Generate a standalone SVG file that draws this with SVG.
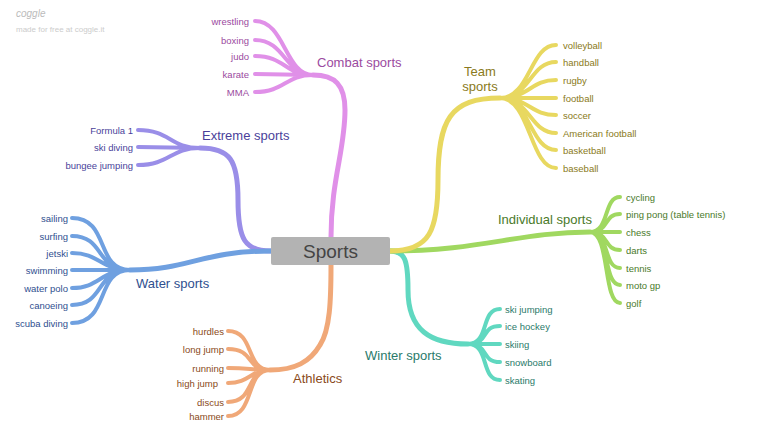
<svg xmlns="http://www.w3.org/2000/svg" width="768" height="443" viewBox="0 0 768 443">
<style>
path{fill:none;stroke-linecap:round}
.l{stroke-width:4}
.t{stroke-width:5}
text{font-family:"Liberation Sans",Arial,sans-serif;font-size:9.5px}
text.h{font-size:13px}
.r{text-anchor:end}
</style>
<rect width="768" height="443" fill="#fff"/>
<text x="16" y="17" fill="#bbb" font-style="italic" style="font-size:10px">coggle</text>
<text x="16" y="32" fill="#ccc" style="font-size:8px">made for free at coggle.it</text>
<g id="connectors">
<g stroke="#e090e8">
<path class="t" d="M331 237 C331 180 345 150 345 110 C345 85 335 75 313 75"/>
<path class="l" d="M313 75 C285 75 285 21 255 21 M313 75 C285 75 285 40 255 40 M313 75 C285 75 285 56 255 56 M313 75 L255 74 M313 75 C285 75 285 92 255 92"/>
</g>
<g stroke="#9a8ee8">
<path class="t" d="M271 251 C245 251 238 240 238 200 C238 160 230 148 200 148"/>
<path class="l" d="M200 148 C170 148 170 130 138 130 M200 148 L138 147 M200 148 C170 148 170 165 138 165"/>
</g>
<g stroke="#6fa0e0">
<path class="t" d="M271 251 C200 251 190 270 130 270"/>
<path class="l" d="M130 270 C95 270 110 218 72 218 M130 270 C95 270 105 236 72 236 M130 270 C100 270 100 253 72 253 M130 270 L72 270 M130 270 C100 270 100 288 72 288 M130 270 C95 270 105 305 72 305 M130 270 C95 270 110 323 72 323"/>
</g>
<g stroke="#f0a878">
<path class="t" d="M331 265 C331 300 330 330 320 345 C310 362 295 370 270 370"/>
<path class="l" d="M270 370 C245 370 255 331 228 331 M270 370 C245 370 255 349 228 349 M270 370 C250 370 250 368 228 368 M270 370 C250 370 250 383 228 383 M270 370 C245 370 255 402 228 402 M270 370 C245 370 255 416 228 416"/>
</g>
<g stroke="#60d8c0">
<path class="t" d="M390 251 C405 251 408 260 408 290 C408 330 430 344 468 344"/>
<path class="l" d="M468 344 C490 344 480 309 500 309 M468 344 C490 344 480 326 500 326 M468 344 L500 344 M468 344 C490 344 480 362 500 362 M468 344 C490 344 480 380 500 380"/>
</g>
<g stroke="#a0d860">
<path class="t" d="M390 251 C480 251 520 232 590 232"/>
<path class="l" d="M590 232 C610 232 603 197 620 197 M590 232 C610 232 603 214 620 214 M590 232 L620 232 M590 232 C610 232 603 250 620 250 M590 232 C610 232 603 268 620 268 M590 232 C610 232 603 285 620 285 M590 232 C610 232 603 303 620 303"/>
</g>
<g stroke="#e8d860">
<path class="t" d="M390 251 C430 251 438 230 438 180 C438 120 450 98 500 98"/>
<path class="l" d="M500 98 C530 98 530 45 556 45 M500 98 C530 98 530 62 556 62 M500 98 C530 98 530 80 556 80 M500 98 L556 98 M500 98 C530 98 530 115 556 115 M500 98 C530 98 530 133 556 133 M500 98 C530 98 530 150 556 150 M500 98 C530 98 530 168 556 168"/>
</g>
</g>
<g id="sports"><rect x="271" y="237" width="119" height="28" rx="2" fill="#b3b3b3"/><text x="330.5" y="258" text-anchor="middle" style="font-size:19px" fill="#444">Sports</text></g>
<g id="combat" fill="#9b4aa0"><text class="h" x="317" y="67">Combat sports</text>
<text class="r" x="249" y="25">wrestling</text><text class="r" x="249" y="44">boxing</text><text class="r" x="249" y="60">judo</text><text class="r" x="249" y="78">karate</text><text class="r" x="249" y="96">MMA</text></g>
<g id="extreme" fill="#4a3f9a"><text class="h" x="202" y="140">Extreme sports</text>
<text class="r" x="133" y="134">Formula 1</text><text class="r" x="133" y="151">ski diving</text><text class="r" x="133" y="169">bungee jumping</text></g>
<g id="water" fill="#2f4f8f"><text class="h" x="136" y="288">Water sports</text>
<text class="r" x="68" y="222">sailing</text><text class="r" x="68" y="240">surfing</text><text class="r" x="68" y="257">jetski</text><text class="r" x="68" y="274">swimming</text><text class="r" x="68" y="292">water polo</text><text class="r" x="68" y="309">canoeing</text><text class="r" x="68" y="327">scuba diving</text></g>
<g id="athletics" fill="#8a4a20"><text class="h" x="293" y="383">Athletics</text>
<text class="r" x="224" y="335">hurdles</text><text class="r" x="224" y="353">long jump</text><text class="r" x="224" y="372">running</text><text class="r" x="218" y="387">high jump</text><text class="r" x="224" y="406">discus</text><text class="r" x="224" y="420">hammer</text></g>
<g id="winter" fill="#2a7a6a"><text class="h" x="365" y="360">Winter sports</text>
<text x="505" y="313">ski jumping</text><text x="505" y="330">ice hockey</text><text x="505" y="348">skiing</text><text x="505" y="366">snowboard</text><text x="505" y="384">skating</text></g>
<g id="individual" fill="#4a7a2a"><text class="h" x="498" y="224">Individual sports</text>
<text x="626" y="201">cycling</text><text x="626" y="218">ping pong (table tennis)</text><text x="626" y="236">chess</text><text x="626" y="254">darts</text><text x="626" y="272">tennis</text><text x="626" y="289">moto gp</text><text x="626" y="307">golf</text></g>
<g id="team" fill="#8a7a20"><text class="h" x="480" y="76" text-anchor="middle">Team</text><text class="h" x="480" y="91" text-anchor="middle">sports</text>
<text x="563" y="49">volleyball</text><text x="563" y="66">handball</text><text x="563" y="84">rugby</text><text x="563" y="102">football</text><text x="563" y="119">soccer</text><text x="563" y="137">American football</text><text x="563" y="154">basketball</text><text x="563" y="172">baseball</text></g>
</svg>
